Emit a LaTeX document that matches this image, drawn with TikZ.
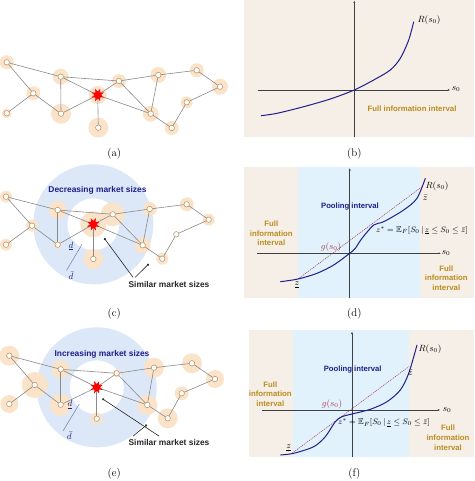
\documentclass[tikz,border=0pt]{standalone}
\usepackage{amsmath}
\usepackage{amssymb}
\usepackage{fontspec}
\newfontfamily\labfont{Liberation Sans}
\usetikzlibrary{arrows.meta,shapes.geometric}
\definecolor{beige}{HTML}{F6EFE7}
\definecolor{poolblau}{HTML}{E2F2FC}
\definecolor{ringblau}{HTML}{DCE8F7}
\definecolor{halo}{HTML}{FAE3C9}
\definecolor{knot}{HTML}{B48C5A}
\definecolor{kante}{HTML}{8A8A8A}
\definecolor{navy}{HTML}{1E1E8C}
\definecolor{gold}{HTML}{B98C1E}
\definecolor{rot}{HTML}{A3344F}
\pgfdeclarelayer{ring}
\pgfdeclarelayer{halo}
\pgfdeclarelayer{kanten}
\pgfsetlayers{ring,halo,kanten,main}
\tikzset{
  vtx/.style={circle,draw=knot,fill=white,line width=0.5pt,inner sep=0pt,minimum size=5.5pt},
  ctr/.style={star,star points=8,star point ratio=0.5,fill=red,draw=red,inner sep=0pt,minimum size=6pt},
  kant/.style={kante,line width=0.6pt},
  ax/.style={-{Latex[length=2.5pt,width=2pt]},black!75,line width=0.5pt},
  kurve/.style={navy,line width=1pt},
  gline/.style={rot,dash pattern=on 1.2pt off 0.9pt,line width=0.5pt},
  info/.style={gold,font=\labfont\bfseries\fontsize{7.8}{9.6}\selectfont,align=center},
  pool/.style={navy,font=\labfont\bfseries\fontsize{7.7}{9}\selectfont},
  mkt/.style={navy,font=\labfont\bfseries\fontsize{8.4}{10}\selectfont},
  sim/.style={black!85,font=\labfont\bfseries\fontsize{8.4}{10}\selectfont},
  ptr/.style={black!85,line width=0.6pt,-{Circle[length=2.2pt]}},
  mlab/.style={font=\fontsize{9}{11}\selectfont},
  zlab/.style={font=\fontsize{8.5}{10}\selectfont,inner sep=1pt},
  subcap/.style={font=\fontsize{11}{13}\selectfont},
}

\begin{document}
\begin{tikzpicture}[x=1pt,y=-1pt]
  \useasboundingbox (0,0) rectangle (474,481);

  % --- networks (a), (c), (e)
  \node[ctr] (a0) at (97.7,95) {};
  \node[ctr] (c0) at (93.3,224.3) {};
  \node[ctr] (e0) at (96.7,387.3) {};
  \foreach \n/\x/\y/\r in {1/6.7/62.3/7,2/60.7/76.7/8,3/33.3/93.3/7,4/6.7/113.3/5,
      5/61/113.7/10,6/98.3/127.7/10,7/119/81/7,8/158.3/75/8,9/196.7/70.3/7,
      10/220/86.7/8,11/186.7/102.3/6,12/150.7/113.7/8,13/171.7/128/7}{
    \node[vtx] (a\n) at (\x,\y) {};
    \begin{pgfonlayer}{halo}\fill[halo] (a\n) circle (\r pt);\end{pgfonlayer}
  }
  \foreach \n/\x/\y/\r in {1/6/196.7/6,2/57.7/210/9,3/32/225.7/6,4/6/244.7/6,
      5/57.7/244.7/4,6/93.3/259/10,7/112.7/214.3/12,8/149.7/209/7,9/186.7/204.3/7,
      10/208.7/219.7/6,11/176.3/234.3/0,12/142.7/245.3/8,13/162.3/258.7/6}{
    \node[vtx] (c\n) at (\x,\y) {};
    \begin{pgfonlayer}{halo}\fill[halo] (c\n) circle (\r pt);\end{pgfonlayer}
  }
  \foreach \n/\x/\y/\r in {1/9.3/355.7/10,2/60.7/369.3/9,3/34.7/385/13,4/9.3/404/9,
      5/60.7/404.7/11,6/96.7/418.7/6,7/116.7/373.3/4,8/154/367.7/10,9/192/363.3/10,
      10/215/379/9,11/181.7/393.3/7,12/147.3/405/10,13/167.7/418.3/10}{
    \node[vtx] (e\n) at (\x,\y) {};
    \begin{pgfonlayer}{halo}\fill[halo] (e\n) circle (\r pt);\end{pgfonlayer}
  }
  \begin{pgfonlayer}{halo}
    \fill[halo] (a0) circle (9pt);
    \fill[halo] (c0) circle (13pt);
    \fill[halo] (e0) circle (3pt);
  \end{pgfonlayer}
  \begin{pgfonlayer}{kanten}
    \foreach \p in {a,c,e}
      \foreach \i/\j in {1/2,1/3,3/4,3/5,2/5,2/0,2/7,0/5,0/6,0/7,0/12,7/12,7/8,
          8/12,8/9,9/10,10/11,11/13,12/13}
        \draw[kant] (\p\i) -- (\p\j);
  \end{pgfonlayer}
  \begin{pgfonlayer}{ring}
    \fill[ringblau,even odd rule] (c0) circle (60pt) circle (26pt);
    \fill[ringblau,even odd rule] (e0) circle (60pt) circle (27pt);
  \end{pgfonlayer}

  % ring labels
  \node[mkt] (cdec) at (97.5,190) {Decreasing market sizes};
  \node[mkt] (einc) at (102,354) {Increasing market sizes};
  \node[navy,mlab] (cdlo) at (71,246) {$\underline{d}$};
  \node[navy,mlab] (cdhi) at (71,276) {$\bar{d}$};
  \draw[navy!60,line width=0.5pt] (82,244.3) -- (66.5,270.5);
  \node[navy,mlab] (edlo) at (70,404.3) {$\underline{d}$};
  \node[navy,mlab] (edhi) at (69.3,436) {$\bar{d}$};
  \draw[navy!60,line width=0.5pt] (79.3,404) -- (63,431);
  \node[sim] (csim) at (169,284) {Similar market sizes};
  \node[sim] (esim) at (169,442.7) {Similar market sizes};
  \coordinate (cp1) at (104.3,238.3);
  \coordinate (cp2) at (148.7,264);
  \coordinate (ep1) at (102.3,398.7);
  \coordinate (ep2) at (147,424.7);
  \draw[ptr] ([xshift=8pt]csim.north west) -- (cp1);
  \draw[ptr] ([xshift=10pt]csim.north west) -- (cp2);
  \draw[ptr] ([xshift=-10pt]esim.north) -- (ep1);
  \draw[ptr] ([xshift=8pt]esim.north west) -- (ep2);

  % --- (b)
  \fill[beige] (244.3,0) rectangle (474,136.7);
  \draw[ax] (257.7,90) -- (450.3,90);
  \draw[ax] (354.3,137.3) -- (354.3,0.5);
  \draw[kurve] plot[smooth,tension=0.5] coordinates {(261,115.7) (277,113.3)
    (303.7,106.7) (330.3,99) (354.3,90) (373.7,80) (390.3,70) (400.3,58.3)
    (408.7,40) (413.7,21.7)};
  \node[mlab] (bR) at (429,20.7) {$R(s_0)$};
  \node[mlab] (bs) at (456,89.3) {$s_0$};
  \node[info] (binfo) at (412,109) {Full information interval};

  % --- (d)
  \fill[beige] (244.3,167.3) rectangle (474,298.3);
  \fill[poolblau] (298,167.3) rectangle (420.3,298.3);
  \draw[ax] (257,253.3) -- (441,253.3);
  \draw[ax] (349.7,298.3) -- (349.7,168);
  \draw[gline] (298,279) -- (422,186.7);
  \draw[kurve] plot[smooth,tension=0.5] coordinates {(280.3,281.7) (298,279)
    (317,273.3) (333.7,265) (349.7,253.3) (355.3,248.3) (362,238.3) (373.7,225)
    (383.7,221.7) (403.7,210) (417,198.3) (425.3,178.3)};
  \node[mlab] (dR) at (437,186) {$R(s_0)$};
  \node[mlab] (dzh) at (425.3,198) {$\bar{z}$};
  \node[mlab] (dzl) at (297,285) {$\underline{z}$};
  \node[mlab] (ds) at (446,252.7) {$s_0$};
  \node[mlab,rot] (dg) at (331,247.3) {$g(s_0)$};
  \node[zlab] (dzs) at (422,230) {$z^*=\mathbb{E}_F[S_0\,|\,\underline{z}\le S_0\le\bar{z}]$};
  \node[pool] (dpool) at (350,206.7) {Pooling interval};
  \node[info] (dinfl) at (271.3,233.3) {Full\\information\\interval};
  \node[info] (dinfr) at (446.3,278) {Full\\information\\interval};

  % --- (f)
  \fill[beige] (248.7,330) rectangle (474,457.3);
  \fill[poolblau] (293,330) rectangle (408.7,457.3);
  \draw[ax] (262,410) -- (440.3,410);
  \draw[ax] (352,457.3) -- (352,331.5);
  \draw[gline] (292,453.3) -- (408.7,366.7);
  \draw[kurve] plot[smooth,tension=0.5] coordinates {(280.3,455) (293.7,453.3)
    (313.7,446.7) (325.3,436.7) (335.3,421.7) (342,416.7) (352,414) (370.3,409.3)
    (387,401.7) (400.3,390) (408.7,373.3) (417,345)};
  \node[mlab] (fR) at (430,349.3) {$R(s_0)$};
  \node[mlab] (fzh) at (410.3,373.3) {$\bar{z}$};
  \node[mlab] (fzl) at (288.7,447.7) {$\underline{z}$};
  \node[mlab] (fs) at (447,410) {$s_0$};
  \node[mlab,rot] (fg) at (332,404.3) {$g(s_0)$};
  \node[zlab] (fzs) at (384,422.7) {$z^*=\mathbb{E}_F[S_0\,|\,\underline{z}\le S_0\le\bar{z}]$};
  \node[pool] (fpool) at (352.7,369.3) {Pooling interval};
  \node[info] (finfl) at (270.3,394) {Full\\information\\interval};
  \node[info] (finfr) at (448,437.8) {Full\\information\\interval};

  % sub captions
  \node[subcap] (capa) at (114.3,154) {(a)};
  \node[subcap] (capb) at (354.3,154) {(b)};
  \node[subcap] (capc) at (114.3,314) {(c)};
  \node[subcap] (capd) at (354.3,314) {(d)};
  \node[subcap] (cape) at (114.3,474) {(e)};
  \node[subcap] (capf) at (354.3,474) {(f)};
\end{tikzpicture}
\end{document}
